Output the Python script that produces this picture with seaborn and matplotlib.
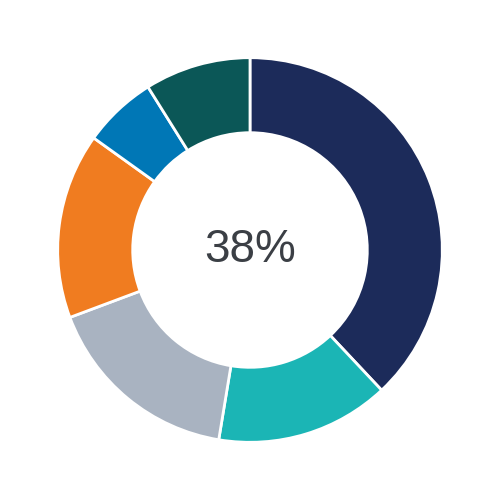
import matplotlib
matplotlib.use("Agg")
import matplotlib.pyplot as plt
import seaborn as sns

# slice shares, clockwise from 12 o'clock
labels = ["A", "B", "C", "D", "E", "F"]
shares = [38, 14.6, 16.7, 15.6, 6.2, 8.9]
colors = ["#1c2b5a", "#1bb5b5", "#a9b3c1", "#f07c20", "#0077b6", "#0b5757"]
center_label = "38%"

sns.set_theme(style="white")
plt.rcParams["font.family"] = ["Liberation Sans", "DejaVu Sans"]

fig = plt.figure(figsize=(5, 5), dpi=100)
ax = fig.add_axes([0, 0, 1, 1])
ax.pie(shares, colors=sns.color_palette(colors), startangle=90, counterclock=False,
       radius=1, wedgeprops=dict(width=0.39, edgecolor="white", linewidth=2))
ax.text(0, 0.0, center_label, ha="center", va="center", fontsize=33, color="#3b3f45")
ax.set_xlim(-1.3, 1.3)
ax.set_ylim(-1.3, 1.3)
ax.set_aspect("equal")
ax.axis("off")

fig.savefig("out.png", dpi=100, facecolor="white")
plt.close(fig)
